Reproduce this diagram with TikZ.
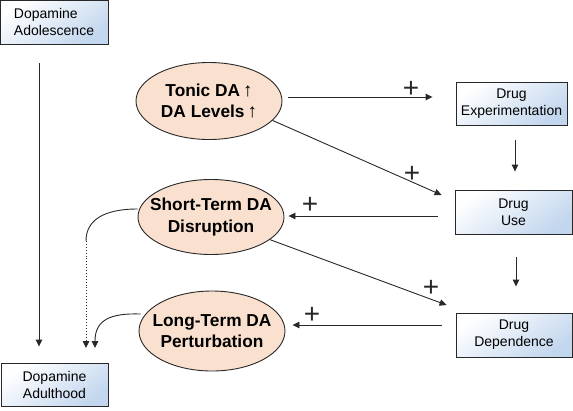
\documentclass[tikz,border=0pt]{standalone}
\usepackage{fontspec}
\setmainfont{Liberation Sans}
\usetikzlibrary{arrows.meta,shapes.geometric}
\definecolor{peach}{RGB}{250,225,207}
\definecolor{boxblue}{RGB}{194,214,238}
\definecolor{linec}{RGB}{40,40,40}
\newcommand{\uparr}{{\fontsize{19}{21}\selectfont ↑}}
\begin{document}
\begin{tikzpicture}[x=1pt,y=-1pt,
  box/.style={draw=linec, line width=0.9pt, top color=white, bottom color=boxblue, shading angle=35,
    inner sep=0pt, font=\fontsize{14}{17}\selectfont, align=center},
  oval/.style={ellipse, draw=linec, line width=0.9pt, fill=peach, inner xsep=-15pt, inner ysep=0pt,
    minimum width=146pt, minimum height=77pt, font=\bfseries\fontsize{17.3}{21.5}\selectfont, align=center},
  conn/.style={draw=linec, line width=0.9pt},
  arr/.style={conn, -{Triangle[length=7pt,width=6.5pt]}},
  plus/.style={font=\fontsize{28}{28}\selectfont, inner sep=0pt, text=linec}]
\useasboundingbox (0,0) rectangle (573,410);

% boxes
\node[box, minimum width=108pt, minimum height=44pt, align=left] (ado) at (54,22) {Dopamine\\Adolescence};
\node[box, minimum width=107pt, minimum height=43pt] (adult) at (54.5,384.5) {Dopamine\\Adulthood};
\node[box, minimum width=111pt, minimum height=43pt] (exp) at (511.5,103.5) {Drug\\Experimentation};
\node[box, minimum width=117pt, minimum height=44pt] (use) at (513.5,212) {Drug\\Use};
\node[box, minimum width=116pt, minimum height=44pt] (dep) at (514,335) {Drug\\Dependence};

% ellipses
\node[oval] (tonic) at (209,101) {Tonic DA\,\uparr\\DA Levels\,\uparr};
\node[oval, minimum height=75pt] (short) at (211,217) {Short-Term DA\\Disruption};
\node[oval, minimum height=80pt] (long) at (212,331) {Long-Term DA\\Perturbation};

% connectors
\draw[arr] ([shift={(-15,19)}]ado.south) -- ([shift={(-15.5,-16)}]adult.north);
\draw[arr] ([shift={(6,-4)}]tonic.east) -- ([shift={(-23,-6.5)}]exp.west);
\draw[arr] (tonic.-17) -- ([shift={(-13,-17)}]use.west);
\draw[arr] ([shift={(3.5,15)}]exp.south) -- ([shift={(1.5,-18)}]use.north);
\draw[arr] ([shift={(-17,4)}]use.west) -- ([shift={(4,-1)}]short.east);
\draw[arr] (short.-21) -- ([shift={(-9,-30)}]dep.west);
\draw[arr] ([shift={(2.5,23)}]use.south) -- ([shift={(2,-26)}]dep.north);
\draw[arr] ([shift={(-14,-10)}]dep.west) -- ([shift={(7,-6)}]long.east);

\coordinate (sbend) at (86,241);
\coordinate (send) at (86,348);
\draw[conn] ([shift={(0,-8)}]short.west) .. controls (104,209) and (86,220) .. (sbend);
\draw[arr, dotted] (sbend) -- (send);

\coordinate (lend) at (95,348);
\draw[arr] ([shift={(2,-17)}]long.west) .. controls (110,313) and (95,320) .. (lend);

% plus signs
\node[plus] (p1) at (411,89) {+};
\node[plus] (p2) at (412,174) {+};
\node[plus] (p3) at (310,205) {+};
\node[plus] (p4) at (431,288) {+};
\node[plus] (p5) at (312,315) {+};
\end{tikzpicture}
\end{document}
